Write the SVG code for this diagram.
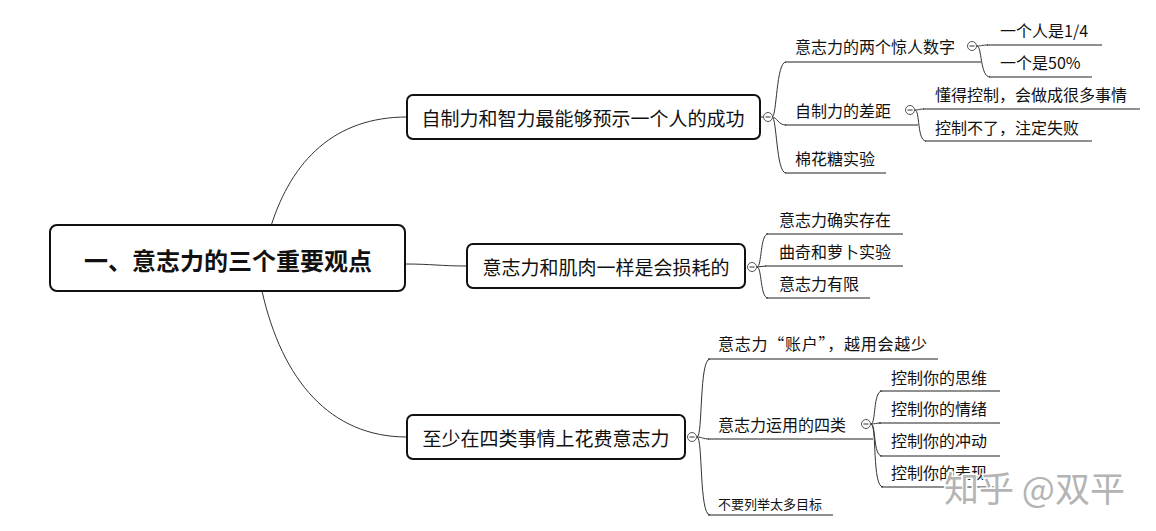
<svg xmlns="http://www.w3.org/2000/svg" width="1156" height="531" viewBox="0 0 1156 531">
<style>
.bg{fill:#ffffff}
.box{fill:#ffffff;stroke:#111;stroke-width:2}
.ln{fill:none;stroke:#333;stroke-width:1}
.ul{fill:none;stroke:#222;stroke-width:1.2}
.cir{fill:#fff;stroke:#555;stroke-width:1}
.t{font-family:"Noto Sans CJK SC","Microsoft YaHei",sans-serif;fill:#111;dominant-baseline:central}
.root{font-size:24px;font-weight:bold;text-anchor:middle}
.main{font-size:19px;text-anchor:middle}
.sub{font-size:16px}
.small{font-size:13px}
.wm{font-family:"Noto Sans CJK SC",sans-serif;font-size:35px;fill:#b4b4b4;stroke:#ffffff;stroke-width:3;paint-order:stroke;dominant-baseline:central}
</style>
<rect class="bg" x="0" y="0" width="1156" height="531"/>
<g id="connectors">
  <path class="ln" d="M 271 226 C 292 160, 335 117, 407 117"/>
  <path class="ln" d="M 405 264 C 432 264, 440 266, 467 266"/>
  <path class="ln" d="M 262 291 C 282 380, 330 437, 407 437"/>
  <line class="ln" x1="760" y1="117" x2="764" y2="117"/>
  <path class="ln" d="M 772 117 C 777 117, 776 62, 786 62"/>
  <path class="ln" d="M 772 117 C 777 117, 778 125, 786 125"/>
  <path class="ln" d="M 772 117 C 777 117, 776 173, 786 173"/>
  <line class="ul" x1="785" y1="62" x2="981" y2="62"/>
  <line class="ul" x1="785" y1="125" x2="918" y2="125"/>
  <line class="ul" x1="785" y1="173" x2="886" y2="173"/>
  <path class="ln" d="M 977 46 C 981 46, 982 45, 988 45"/>
  <path class="ln" d="M 977 46 C 982 46, 980 77, 990 77"/>
  <line class="ul" x1="987" y1="45" x2="1102" y2="45"/>
  <line class="ul" x1="989" y1="77" x2="1092" y2="77"/>
  <path class="ln" d="M 915 110 C 919 110, 919 109, 924 109"/>
  <path class="ln" d="M 915 110 C 920 110, 917 141, 926 141"/>
  <line class="ul" x1="923" y1="109" x2="1140" y2="109"/>
  <line class="ul" x1="925" y1="141" x2="1092" y2="141"/>
  <path class="ln" d="M 757 267 C 762 267, 760 234, 768 234"/>
  <line class="ln" x1="757" y1="267" x2="766" y2="266"/>
  <path class="ln" d="M 757 267 C 762 267, 760 298, 768 298"/>
  <line class="ul" x1="766" y1="234" x2="903" y2="234"/>
  <line class="ul" x1="765" y1="266" x2="903" y2="266"/>
  <line class="ul" x1="766" y1="298" x2="870" y2="298"/>
  <path class="ln" d="M 697 437 C 703 437, 699 359, 710 359"/>
  <path class="ln" d="M 697 437 C 702 437, 703 439, 709 439"/>
  <path class="ln" d="M 697 437 C 703 437, 699 515, 710 515"/>
  <line class="ul" x1="708" y1="359" x2="938" y2="359"/>
  <line class="ul" x1="708" y1="439" x2="873" y2="439"/>
  <line class="ul" x1="708" y1="515" x2="833" y2="515"/>
  <path class="ln" d="M 871 424 C 876 424, 873 391, 882 391"/>
  <path class="ln" d="M 871 424 C 875 424, 876 423, 881 423"/>
  <path class="ln" d="M 871 424 C 876 424, 873 456, 882 456"/>
  <path class="ln" d="M 871 424 C 877 424, 872 487, 883 487"/>
  <line class="ul" x1="880" y1="391" x2="1000" y2="391"/>
  <line class="ul" x1="879" y1="423" x2="1000" y2="423"/>
  <line class="ul" x1="880" y1="456" x2="1000" y2="456"/>
  <line class="ul" x1="881" y1="487" x2="1000" y2="487"/>
</g>
<g id="root">
  <rect class="box" x="50" y="225" width="355" height="66" rx="7"/>
  <text class="t root" x="228" y="259">一、意志力的三个重要观点</text>
</g>
<g id="node1">
  <rect class="box" x="407" y="95" width="353" height="44" rx="6"/>
  <text class="t main" x="583" y="117">自制力和智力最能够预示一个人的成功</text>
  <circle class="cir" cx="768" cy="117" r="4.5"/>
  <line class="ln" x1="765.5" y1="117" x2="770.5" y2="117"/>
</g>
<g id="node2">
  <rect class="box" x="467" y="244" width="278" height="44" rx="6"/>
  <text class="t main" x="606" y="266">意志力和肌肉一样是会损耗的</text>
  <circle class="cir" cx="752" cy="267" r="4.5"/>
  <line class="ln" x1="749.5" y1="267" x2="754.5" y2="267"/>
</g>
<g id="node3">
  <rect class="box" x="407" y="415" width="278" height="44" rx="6"/>
  <text class="t main" x="546" y="437">至少在四类事情上花费意志力</text>
  <circle class="cir" cx="692" cy="437" r="4.5"/>
  <line class="ln" x1="689.5" y1="437" x2="694.5" y2="437"/>
</g>
<g id="n1a">
  <text class="t sub" x="795" y="46">意志力的两个惊人数字</text>
  <circle class="cir" cx="972" cy="46" r="4.5"/>
  <line class="ln" x1="969.5" y1="46" x2="974.5" y2="46"/>
</g>
<g id="n1a1"><text class="t sub" x="1000" y="30">一个人是1/4</text></g>
<g id="n1a2"><text class="t sub" x="1000" y="62">一个是50%</text></g>
<g id="n1b">
  <text class="t sub" x="795" y="110">自制力的差距</text>
  <circle class="cir" cx="910" cy="110" r="4.5"/>
  <line class="ln" x1="907.5" y1="110" x2="912.5" y2="110"/>
</g>
<g id="n1b1"><text class="t sub" x="935" y="94">懂得控制，会做成很多事情</text></g>
<g id="n1b2"><text class="t sub" x="935" y="127">控制不了，注定失败</text></g>
<g id="n1c"><text class="t sub" x="795" y="158">棉花糖实验</text></g>
<g id="n2a"><text class="t sub" x="779" y="219">意志力确实存在</text></g>
<g id="n2b"><text class="t sub" x="779" y="251">曲奇和萝卜实验</text></g>
<g id="n2c"><text class="t sub" x="779" y="283">意志力有限</text></g>
<g id="n3a"><text class="t sub" x="718" y="343" textLength="209" lengthAdjust="spacing">意志力“账户”，越用会越少</text></g>
<g id="n3b">
  <text class="t sub" x="718" y="424">意志力运用的四类</text>
  <circle class="cir" cx="866" cy="424" r="4.5"/>
  <line class="ln" x1="863.5" y1="424" x2="868.5" y2="424"/>
</g>
<g id="n3b1"><text class="t sub" x="891" y="377">控制你的思维</text></g>
<g id="n3b2"><text class="t sub" x="891" y="408">控制你的情绪</text></g>
<g id="n3b3"><text class="t sub" x="891" y="440">控制你的冲动</text></g>
<g id="n3b4"><text class="t sub" x="891" y="472">控制你的表现</text></g>
<g id="n3c"><text class="t small" x="718" y="503">不要列举太多目标</text></g>
<g id="watermark">
  <text class="wm" x="944" y="486">知乎 @双平</text>
</g>
</svg>
